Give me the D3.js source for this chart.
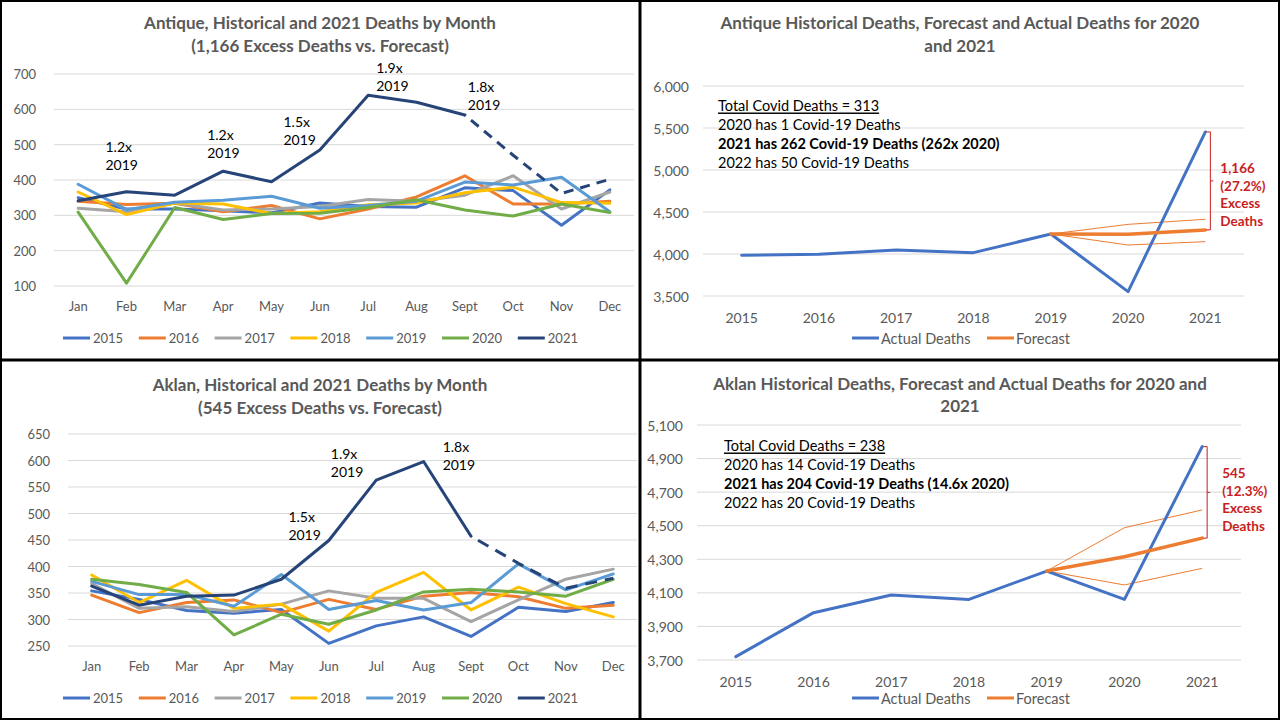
<!DOCTYPE html>
<html>
<head>
<meta charset="utf-8">
<script src="https://cdn.jsdelivr.net/npm/d3@7"></script>
<style>
body { margin: 0; background: #fff; }
svg { display: block; font-family: Lato, "Open Sans", sans-serif; }
</style>
</head>
<body>
<svg id="chart" width="1280" height="720"></svg>
<script>
// ---- data ----
var months = ["Jan","Feb","Mar","Apr","May","Jun","Jul","Aug","Sept","Oct","Nov","Dec"];
var seriesNames = ["2015","2016","2017","2018","2019","2020","2021"];

var antique2015 = [350, 318, 318, 313, 307, 335, 325, 323, 378, 370, 272, 372];
var antique2016 = [340, 331, 334, 310, 328, 290, 318, 352, 412, 332, 332, 340];
var antique2017 = [320, 310, 335, 315, 318, 325, 345, 340, 357, 412, 318, 366];
var antique2018 = [366, 302, 335, 332, 305, 310, 330, 335, 364, 380, 336, 334];
var antique2019 = [388, 316, 337, 343, 354, 320, 328, 340, 394, 386, 408, 310];
var antique2020 = [309, 108, 322, 288, 305, 306, 322, 344, 315, 298, 332, 308];
var antique2021 = [341, 367, 357, 425, 395, 485, 640, 620, 584, 470, 362, 402];

var aklan2015 = [354, 338, 317, 312, 319, 255, 288, 305, 268, 323, 315, 332];
var aklan2016 = [346, 313, 332, 337, 313, 338, 319, 344, 351, 343, 321, 327];
var aklan2017 = [368, 321, 324, 315, 329, 354, 340, 340, 296, 337, 376, 395];
var aklan2018 = [384, 332, 374, 321, 329, 278, 351, 389, 318, 361, 330, 305];
var aklan2019 = [372, 347, 347, 325, 385, 319, 336, 318, 332, 405, 356, 386];
var aklan2020 = [376, 366, 351, 271, 310, 291, 318, 352, 357, 352, 344, 376];
var aklan2021 = [363, 327, 344, 346, 376, 449, 563, 598, 457, 406, 359, 378];

var antiqueTicks = [100, 200, 300, 400, 500, 600, 700];
var aklanTicks = [250, 300, 350, 400, 450, 500, 550, 600, 650];

var antiqueNoteMonths = ["Feb", "Apr", "May", "Jul", "Sept"];
var antiqueNoteText = ["1.2x", "1.2x", "1.5x", "1.9x", "1.8x"];
var aklanNoteMonths = ["May", "Jun", "Aug"];
var aklanNoteText = ["1.5x", "1.9x", "1.8x"];

var years = ["2015","2016","2017","2018","2019","2020","2021"];
var forecastYears = ["2019","2020","2021"];
var antiqueActual = [3984, 3996, 4048, 4016, 4238, 3552, 5453];
var antiqueForecast = [4238, 4234, 4287];
var antiqueUpper = [4238, 4353, 4413];
var antiqueLower = [4238, 4107, 4147];
var aklanActual = [3720, 3982, 4087, 4061, 4230, 4061, 4971];
var aklanForecast = [4230, 4315, 4426];
var aklanUpper = [4230, 4488, 4594];
var aklanLower = [4230, 4147, 4246];

var antiqueAnnualTicks = [3500, 4000, 4500, 5000, 5500, 6000];
var aklanAnnualTicks = [3700, 3900, 4100, 4300, 4500, 4700, 4900, 5100];

var antiqueCovidLines = ["Total Covid Deaths = 313", "2020 has 1 Covid-19 Deaths",
  "2021 has 262 Covid-19 Deaths (262x 2020)", "2022 has 50 Covid-19 Deaths"];
var aklanCovidLines = ["Total Covid Deaths = 238", "2020 has 14 Covid-19 Deaths",
  "2021 has 204 Covid-19 Deaths (14.6x 2020)", "2022 has 20 Covid-19 Deaths"];
var antiqueExcessLines = ["1,166", "(27.2%)", "Excess", "Deaths"];
var aklanExcessLines = ["545", "(12.3%)", "Excess", "Deaths"];

// ---- styling ----
var seriesColors = ["#4472C4","#ED7D31","#A5A5A5","#FFC000","#5B9BD5","#70AD47","#264478"];
var gridColor = "#D9D9D9", textGray = "#595959", excessRed = "#C81E1E";

var svg = d3.select("#chart");
svg.append("rect").attr("width", 1280).attr("height", 720).attr("fill", "#fff");

function title(g, lines, cx, ys) {
  lines.forEach(function(t, i) {
    g.append("text").attr("x", cx).attr("y", ys[i])
      .attr("text-anchor", "middle").attr("dominant-baseline", "central")
      .attr("font-size", 17).attr("font-weight", "bold").attr("fill", textGray)
      .text(t);
  });
}

function drawMonthly(cfg) {
  var g = svg.append("g");
  var x = d3.scaleBand().domain(months).range([cfg.left, cfg.right]);
  var y = d3.scaleLinear().domain(d3.extent(cfg.ticks)).range([cfg.bottom, cfg.top]);
  var cx = function(m) { return x(m) + x.bandwidth() / 2; };

  g.selectAll(".grid").data(cfg.ticks).join("line")
    .attr("x1", cfg.left).attr("x2", cfg.right)
    .attr("y1", function(d) { return y(d); }).attr("y2", function(d) { return y(d); })
    .attr("stroke", gridColor).attr("stroke-width", 1);
  g.selectAll(".ylab").data(cfg.ticks).join("text")
    .attr("x", cfg.left - 18).attr("y", function(d) { return y(d); })
    .attr("text-anchor", "end").attr("dominant-baseline", "central")
    .attr("font-size", 13).attr("fill", textGray).text(function(d) { return d; });
  g.selectAll(".xlab").data(months).join("text")
    .attr("x", cx).attr("y", cfg.bottom + 20)
    .attr("text-anchor", "middle").attr("dominant-baseline", "central")
    .attr("font-size", 13).attr("fill", textGray).text(function(d) { return d; });

  var line = d3.line().x(function(d) { return cx(d.m); }).y(function(d) { return y(d.v); });
  cfg.series.forEach(function(vals, i) {
    var pts = vals.map(function(v, j) { return {m: months[j], v: v}; });
    var last = i === cfg.series.length - 1;
    var solid = last ? pts.slice(0, cfg.dashFrom + 1) : pts;
    g.append("path").attr("d", line(solid)).attr("fill", "none")
      .attr("stroke", seriesColors[i]).attr("stroke-width", 3)
      .attr("stroke-linejoin", "round").attr("stroke-linecap", "round");
    if (last) {
      g.append("path").attr("d", line(pts.slice(cfg.dashFrom))).attr("fill", "none")
        .attr("stroke", seriesColors[i]).attr("stroke-width", 3)
        .attr("stroke-dasharray", cfg.dash).attr("stroke-dashoffset", -8);
    }
  });

  // "n.nx 2019" notes above the 2021 line
  var s2021 = cfg.series[cfg.series.length - 1];
  cfg.noteMonths.forEach(function(m, i) {
    var px = cx(m) + cfg.noteOffsets[i][0];
    var py = y(s2021[months.indexOf(m)]) + cfg.noteOffsets[i][1];
    [cfg.noteText[i], "2019"].forEach(function(t, k) {
      g.append("text").attr("x", px).attr("y", py + k * 18)
        .attr("dominant-baseline", "central").attr("font-size", 14)
        .attr("fill", "#000").text(t);
    });
  });

  var leg = g.selectAll(".leg").data(seriesNames).join("g")
    .attr("transform", function(d, i) { return "translate(" + (63 + i * 75.8) + "," + cfg.legendY + ")"; });
  leg.append("line").attr("x1", 0).attr("x2", 27)
    .attr("stroke", function(d, i) { return seriesColors[i]; }).attr("stroke-width", 3);
  leg.append("text").attr("x", 30).attr("dominant-baseline", "central")
    .attr("font-size", 13).attr("fill", textGray).text(function(d) { return d; });

  title(g, cfg.titleLines, 320, cfg.titleY);
}

function drawAnnual(cfg) {
  var g = svg.append("g");
  var x = d3.scaleBand().domain(years).range([cfg.left, cfg.right]);
  var y = d3.scaleLinear().domain(d3.extent(cfg.ticks)).range([cfg.bottom, cfg.top]);
  var cx = function(yr) { return x(yr) + x.bandwidth() / 2; };
  var fmt = d3.format(",");

  g.selectAll(".grid").data(cfg.ticks).join("line")
    .attr("x1", cfg.left).attr("x2", cfg.right)
    .attr("y1", function(d) { return y(d); }).attr("y2", function(d) { return y(d); })
    .attr("stroke", gridColor).attr("stroke-width", 1);
  g.selectAll(".ylab").data(cfg.ticks).join("text")
    .attr("x", cfg.left - 14).attr("y", function(d) { return y(d); })
    .attr("text-anchor", "end").attr("dominant-baseline", "central")
    .attr("font-size", 14).attr("fill", textGray).text(function(d) { return fmt(d); });
  g.selectAll(".xlab").data(years).join("text")
    .attr("x", cx).attr("y", cfg.bottom + 21)
    .attr("text-anchor", "middle").attr("dominant-baseline", "central")
    .attr("font-size", 14).attr("fill", textGray).text(function(d) { return d; });

  var line = d3.line().x(function(d) { return cx(d[0]); }).y(function(d) { return y(d[1]); });
  var zipF = function(vals) { return forecastYears.map(function(yr, i) { return [yr, vals[i]]; }); };
  [cfg.upper, cfg.lower].forEach(function(vals) {
    g.append("path").attr("d", line(zipF(vals))).attr("fill", "none")
      .attr("stroke", "#ED7D31").attr("stroke-width", 1);
  });
  g.append("path").attr("d", line(years.map(function(yr, i) { return [yr, cfg.actual[i]]; })))
    .attr("fill", "none").attr("stroke", "#4472C4").attr("stroke-width", 3)
    .attr("stroke-linejoin", "round").attr("stroke-linecap", "round");
  g.append("path").attr("d", line(zipF(cfg.forecast))).attr("fill", "none")
    .attr("stroke", "#ED7D31").attr("stroke-width", 3.5)
    .attr("stroke-linejoin", "round").attr("stroke-linecap", "round");

  // bracket between actual and forecast for 2021
  var bx = cx("2021") + 5;
  var yTop = y(cfg.actual[cfg.actual.length - 1]), yBot = y(cfg.forecast[cfg.forecast.length - 1]);
  var ym = (yTop + yBot) / 2;
  g.append("path")
    .attr("d", "M" + (bx - 4) + "," + yTop + "H" + bx + "V" + yBot + "H" + (bx - 4) +
      "M" + bx + "," + ym + "H" + (bx + 3))
    .attr("fill", "none").attr("stroke", excessRed).attr("stroke-width", 1);
  cfg.excessLines.forEach(function(t, i) {
    g.append("text").attr("x", bx + cfg.excessDx).attr("y", cfg.excessY + i * 17.5)
      .attr("dominant-baseline", "central").attr("font-size", 13.5)
      .attr("font-weight", "bold").attr("fill", excessRed).text(t);
  });

  cfg.covidLines.forEach(function(t, i) {
    g.append("text").attr("x", cfg.noteX).attr("y", cfg.noteY + i * 19.3)
      .attr("dominant-baseline", "central").attr("font-size", 14.5)
      .attr("font-weight", i === 2 ? "bold" : "normal")
      .attr("text-decoration", i === 0 ? "underline" : null)
      .attr("fill", "#000").text(t);
  });

  var legItems = [["Actual Deaths", "#4472C4", 852], ["Forecast", "#ED7D31", 987]];
  legItems.forEach(function(d) {
    g.append("line").attr("x1", d[2]).attr("x2", d[2] + 27)
      .attr("y1", cfg.legendY).attr("y2", cfg.legendY)
      .attr("stroke", d[1]).attr("stroke-width", 3);
    g.append("text").attr("x", d[2] + 29).attr("y", cfg.legendY)
      .attr("dominant-baseline", "central").attr("font-size", 14.5)
      .attr("fill", textGray).text(d[0]);
  });

  title(g, cfg.titleLines, 960, cfg.titleY);
}

drawMonthly({
  left: 54, right: 634, top: 74, bottom: 286, ticks: antiqueTicks,
  series: [antique2015, antique2016, antique2017, antique2018, antique2019, antique2020, antique2021],
  dashFrom: 8, dash: "10,7",
  noteMonths: antiqueNoteMonths, noteText: antiqueNoteText,
  noteOffsets: [[-21, -45], [-16, -37], [12, -60], [8, -28], [3, -28]],
  legendY: 338,
  titleLines: ["Antique, Historical and 2021 Deaths by Month", "(1,166 Excess Deaths vs. Forecast)"],
  titleY: [22, 45]
});

drawMonthly({
  left: 68, right: 637, top: 434, bottom: 646, ticks: aklanTicks,
  series: [aklan2015, aklan2016, aklan2017, aklan2018, aklan2019, aklan2020, aklan2021],
  dashFrom: 8, dash: "12,8",
  noteMonths: aklanNoteMonths, noteText: aklanNoteText,
  noteOffsets: [[7, -63], [2, -87], [19, -15]],
  legendY: 698,
  titleLines: ["Aklan, Historical and 2021 Deaths by Month", "(545 Excess Deaths vs. Forecast)"],
  titleY: [384, 407]
});

drawAnnual({
  left: 703, right: 1244, top: 86, bottom: 296, ticks: antiqueAnnualTicks,
  actual: antiqueActual, forecast: antiqueForecast, upper: antiqueUpper, lower: antiqueLower,
  excessLines: antiqueExcessLines, excessDx: 10, excessY: 168,
  covidLines: antiqueCovidLines, noteX: 718, noteY: 105,
  legendY: 338,
  titleLines: ["Antique Historical Deaths, Forecast and Actual Deaths for 2020", "and 2021"],
  titleY: [22, 45]
});

drawAnnual({
  left: 697, right: 1241, top: 425, bottom: 660, ticks: aklanAnnualTicks,
  actual: aklanActual, forecast: aklanForecast, upper: aklanUpper, lower: aklanLower,
  excessLines: aklanExcessLines, excessDx: 15, excessY: 473,
  covidLines: aklanCovidLines, noteX: 724, noteY: 445,
  legendY: 698,
  titleLines: ["Aklan Historical Deaths, Forecast and Actual Deaths for 2020 and", "2021"],
  titleY: [383, 405]
});

// panel frames
svg.append("rect").attr("x", 1).attr("y", 1).attr("width", 1278).attr("height", 718)
  .attr("fill", "none").attr("stroke", "#000").attr("stroke-width", 2);
svg.append("line").attr("x1", 640).attr("x2", 640).attr("y1", 0).attr("y2", 720)
  .attr("stroke", "#000").attr("stroke-width", 3);
svg.append("line").attr("x1", 0).attr("x2", 1280).attr("y1", 360).attr("y2", 360)
  .attr("stroke", "#000").attr("stroke-width", 3);
</script>
</body>
</html>
